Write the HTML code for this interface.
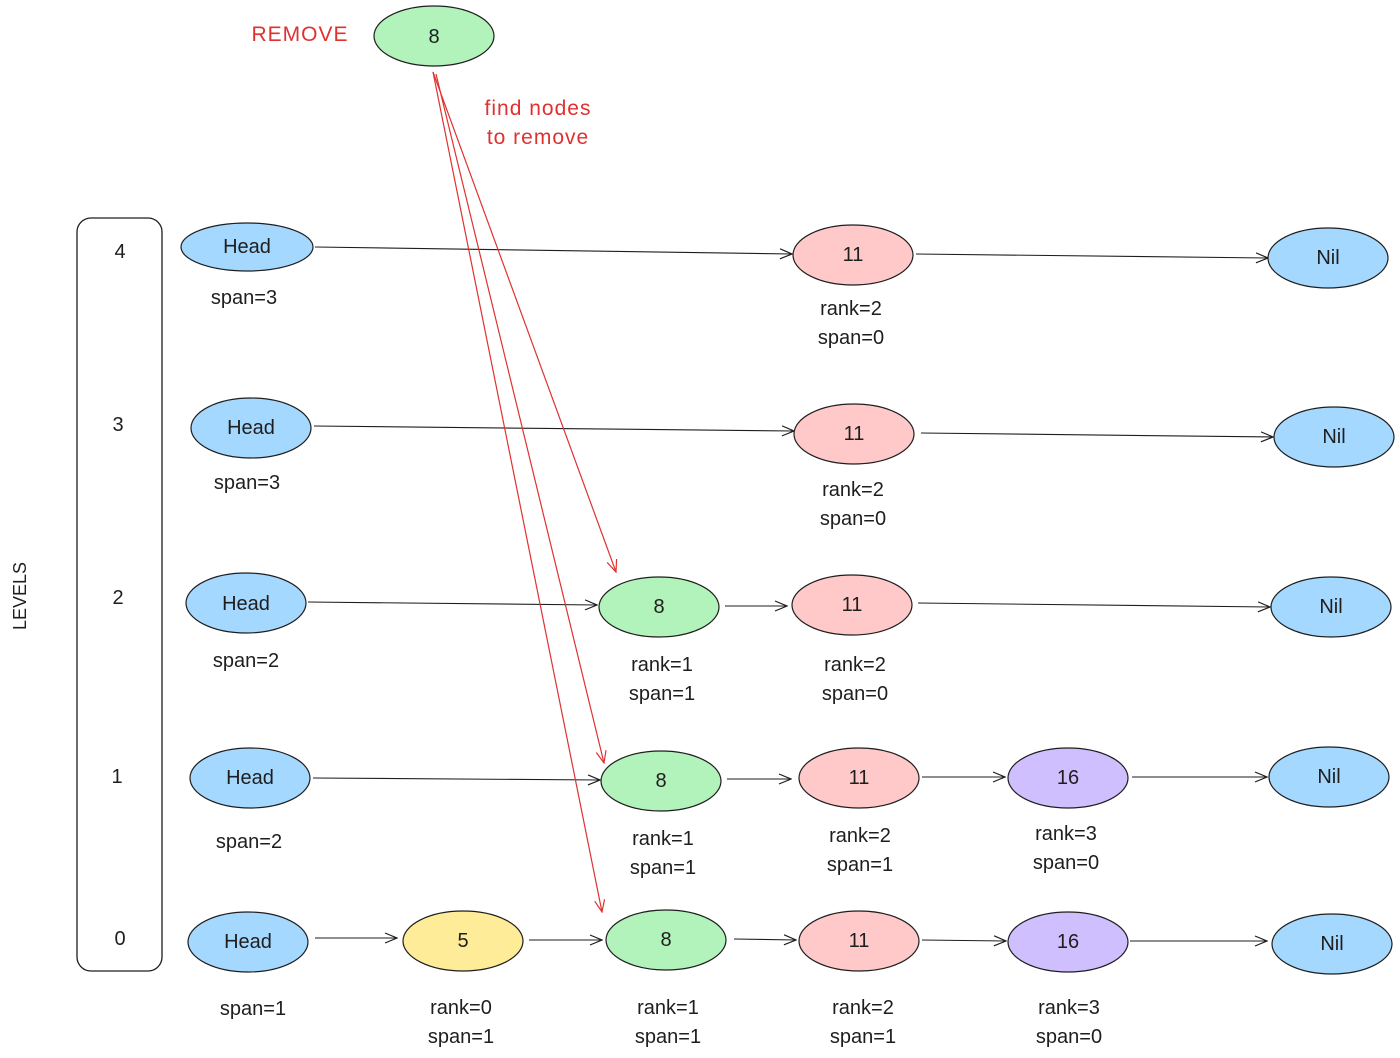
<!DOCTYPE html>
<html><head><meta charset="utf-8"><style>
html,body{margin:0;padding:0;background:#fff;}
svg{display:block;font-family:"Liberation Sans",sans-serif;}
</style></head><body>
<svg width="1400" height="1058" viewBox="0 0 1400 1058" xmlns="http://www.w3.org/2000/svg">
<defs>
<marker id="a" markerWidth="14" markerHeight="12" refX="13" refY="6" orient="auto" markerUnits="userSpaceOnUse">
<path d="M1,1 L13,6 L1,11" fill="none" stroke="#1e1e1e" stroke-width="1.2"/></marker>
<marker id="r" markerWidth="14" markerHeight="12" refX="13" refY="6" orient="auto" markerUnits="userSpaceOnUse">
<path d="M1,1 L13,6 L1,11" fill="none" stroke="#e03131" stroke-width="1.2"/></marker>
</defs>
<rect x="77" y="218" width="85" height="753" rx="14" fill="none" stroke="#1e1e1e" stroke-width="1.3"/>
<g font-size="20" fill="#1e1e1e" text-anchor="middle">
<text x="120" y="258">4</text><text x="118" y="431">3</text><text x="118" y="604">2</text>
<text x="117" y="783">1</text><text x="120" y="945">0</text>
</g>
<text x="26" y="596" font-size="18" fill="#1e1e1e" text-anchor="middle" transform="rotate(-90 26 596)">LEVELS</text>

<text x="300" y="41" font-size="21" fill="#e03131" text-anchor="middle" letter-spacing="1">REMOVE</text>
<text x="538" y="115" font-size="21" fill="#e03131" text-anchor="middle" letter-spacing="1">find nodes</text>
<text x="538" y="144" font-size="21" fill="#e03131" text-anchor="middle" letter-spacing="1">to remove</text>

<g stroke="#1e1e1e" stroke-width="1.1" fill="none" marker-end="url(#a)">
<line x1="315" y1="247" x2="792" y2="254"/><line x1="916" y1="254" x2="1268" y2="258"/>
<line x1="314" y1="426" x2="794" y2="431"/><line x1="921" y1="433" x2="1273" y2="437"/>
<line x1="308" y1="602" x2="597" y2="605"/><line x1="725" y1="606" x2="787" y2="606"/><line x1="918" y1="603" x2="1270" y2="607"/>
<line x1="313" y1="778" x2="600" y2="780"/><line x1="727" y1="779" x2="791" y2="779"/><line x1="922" y1="777" x2="1005" y2="777"/><line x1="1132" y1="777" x2="1267" y2="777"/>
<line x1="315" y1="938" x2="397" y2="938"/><line x1="529" y1="940" x2="602" y2="940"/><line x1="734" y1="939" x2="796" y2="940"/><line x1="922" y1="940" x2="1006" y2="941"/><line x1="1130" y1="941" x2="1267" y2="941"/>
</g>

<g font-size="20" fill="#1e1e1e" text-anchor="middle">
<g stroke="#1e1e1e" stroke-width="1.2">
<ellipse cx="434" cy="36" rx="60" ry="30" fill="#b2f2bb"/>
<ellipse cx="247" cy="247" rx="66" ry="24" fill="#a5d8ff"/>
<ellipse cx="853" cy="255" rx="60" ry="30" fill="#ffc9c9"/>
<ellipse cx="1328" cy="258" rx="60" ry="30" fill="#a5d8ff"/>
<ellipse cx="251" cy="428" rx="60" ry="30" fill="#a5d8ff"/>
<ellipse cx="854" cy="434" rx="60" ry="30" fill="#ffc9c9"/>
<ellipse cx="1334" cy="437" rx="60" ry="30" fill="#a5d8ff"/>
<ellipse cx="246" cy="603" rx="60" ry="30" fill="#a5d8ff"/>
<ellipse cx="659" cy="607" rx="60" ry="30" fill="#b2f2bb"/>
<ellipse cx="852" cy="605" rx="60" ry="30" fill="#ffc9c9"/>
<ellipse cx="1331" cy="607" rx="60" ry="30" fill="#a5d8ff"/>
<ellipse cx="250" cy="778" rx="60" ry="30" fill="#a5d8ff"/>
<ellipse cx="661" cy="781" rx="60" ry="30" fill="#b2f2bb"/>
<ellipse cx="859" cy="778" rx="60" ry="30" fill="#ffc9c9"/>
<ellipse cx="1068" cy="778" rx="60" ry="30" fill="#d0bfff"/>
<ellipse cx="1329" cy="777" rx="60" ry="30" fill="#a5d8ff"/>
<ellipse cx="248" cy="942" rx="60" ry="30" fill="#a5d8ff"/>
<ellipse cx="463" cy="941" rx="60" ry="30" fill="#ffec99"/>
<ellipse cx="666" cy="940" rx="60" ry="30" fill="#b2f2bb"/>
<ellipse cx="859" cy="941" rx="60" ry="30" fill="#ffc9c9"/>
<ellipse cx="1068" cy="942" rx="60" ry="30" fill="#d0bfff"/>
<ellipse cx="1332" cy="944" rx="60" ry="30" fill="#a5d8ff"/>
</g>
<text x="434" y="43">8</text>
<text x="247" y="253">Head</text><text x="853" y="261">11</text><text x="1328" y="264">Nil</text>
<text x="251" y="434">Head</text><text x="854" y="440">11</text><text x="1334" y="443">Nil</text>
<text x="246" y="610">Head</text><text x="659" y="613">8</text><text x="852" y="611">11</text><text x="1331" y="613">Nil</text>
<text x="250" y="784">Head</text><text x="661" y="787">8</text><text x="859" y="784">11</text><text x="1068" y="784">16</text><text x="1329" y="783">Nil</text>
<text x="248" y="948">Head</text><text x="463" y="947">5</text><text x="666" y="946">8</text><text x="859" y="947">11</text><text x="1068" y="948">16</text><text x="1332" y="950">Nil</text>

<text x="244" y="304">span=3</text>
<text x="851" y="315">rank=2</text><text x="851" y="344">span=0</text>
<text x="247" y="489">span=3</text>
<text x="853" y="496">rank=2</text><text x="853" y="525">span=0</text>
<text x="246" y="667">span=2</text>
<text x="662" y="671">rank=1</text><text x="662" y="700">span=1</text>
<text x="855" y="671">rank=2</text><text x="855" y="700">span=0</text>
<text x="249" y="848">span=2</text>
<text x="663" y="845">rank=1</text><text x="663" y="874">span=1</text>
<text x="860" y="842">rank=2</text><text x="860" y="871">span=1</text>
<text x="1066" y="840">rank=3</text><text x="1066" y="869">span=0</text>
<text x="253" y="1015">span=1</text>
<text x="461" y="1014">rank=0</text><text x="461" y="1043">span=1</text>
<text x="668" y="1014">rank=1</text><text x="668" y="1043">span=1</text>
<text x="863" y="1014">rank=2</text><text x="863" y="1043">span=1</text>
<text x="1069" y="1014">rank=3</text><text x="1069" y="1043">span=0</text>
</g>

<g stroke="#e03131" stroke-width="1.2" fill="none">
<line x1="433" y1="72" x2="616" y2="572" marker-end="url(#r)"/>
<line x1="436" y1="74" x2="604" y2="763" marker-end="url(#r)"/>
<line x1="433" y1="72" x2="602" y2="912" marker-end="url(#r)"/>
</g>
</svg>
</body></html>
